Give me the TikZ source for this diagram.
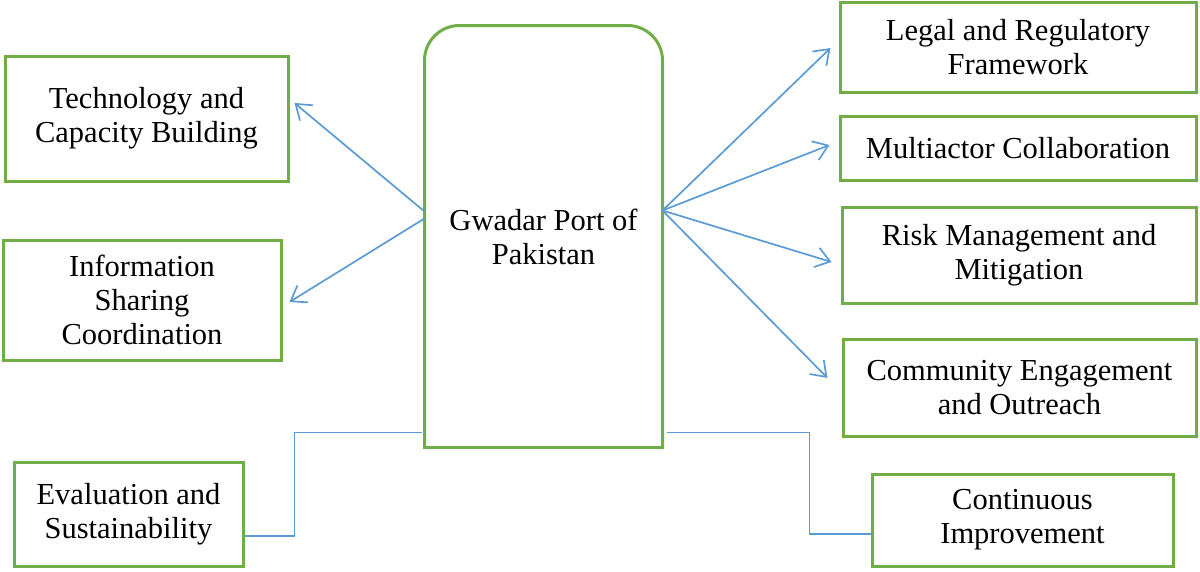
\documentclass[tikz,border=0pt]{standalone}
\usepackage{fontspec}
\setmainfont{Liberation Serif}
\usetikzlibrary{arrows.meta,calc}
\definecolor{boxgreen}{HTML}{70AD47}
\definecolor{lineblue}{HTML}{5B9BD5}
\tikzset{
  box/.style={draw=boxgreen, line width=3pt, align=center, inner sep=0pt,
    font=\fontsize{30.5}{34}\selectfont},
  conn/.style={draw=lineblue, line width=1.7pt},
  arr/.style={conn, -{Straight Barb[length=14pt,width=20pt]}},
}
\begin{document}
\begin{tikzpicture}[x=1pt,y=-1pt]
\useasboundingbox (0,0) rectangle (1200,571);
% side boxes
\node[box, minimum width=283, minimum height=125] (tech) at (146.5,118.5) {Technology and\\Capacity Building};
\node[box, minimum width=278, minimum height=120] (info) at (142,300) {Information\\Sharing\\Coordination};
\node[box, minimum width=229, minimum height=104] (eval) at (128.5,514) {Evaluation and\\Sustainability};
\node[box, minimum width=356, minimum height=90] (legal) at (1018,47) {Legal and Regulatory\\Framework};
\node[box, minimum width=356, minimum height=64] (multi) at (1018,148) {Multiactor Collaboration};
\node[box, minimum width=354, minimum height=96] (risk) at (1019,255) {Risk Management and\\Mitigation};
\node[box, minimum width=353, minimum height=97] (comm) at (1019.5,387.5) {Community Engagement\\and Outreach};
\node[box, minimum width=301, minimum height=92] (cont) at (1022.5,520) {Continuous\\Improvement};
% central box
\node[box, draw=none, minimum width=235, minimum height=419] (gw) at (543.5,236.5) {Gwadar Port of\\Pakistan};
\draw[draw=boxgreen, line width=3pt, rounded corners=35pt] (gw.south west) -- (gw.north west) -- (gw.north east) -- (gw.south east);
\draw[draw=boxgreen, line width=3pt, line cap=rect] (gw.south west) -- (gw.south east);
% arrows
\coordinate (gl1) at ($(gw.north west)+(0,186)$);
\coordinate (gl2) at ($(gw.north west)+(0,193)$);
\coordinate (gr) at ($(gw.north east)+(0,185)$);
\draw[arr] (gl1) -- ([shift={(5,-15.5)}]tech.east);
\draw[arr] (gl2) -- ([shift={(7,2)}]info.east);
\draw[arr] (gr) -- ([shift={(-8,1)}]legal.west);
\draw[arr] (gr) -- ([shift={(-9,-3)}]multi.west);
\draw[arr] (gr) -- ([shift={(-9,7)}]risk.west);
\draw[arr] (gr) -- ([shift={(-14,-9.5)}]comm.west);
% elbow connectors
\coordinate (ge) at ([shift={(-3,-15)}]gw.south west);
\coordinate (gc) at ([shift={(4,-15)}]gw.south east);
\draw[conn] ([shift={(0,22)}]eval.east) -- ++(50,0) |- (ge);
\draw[conn] (gc) -- ++(143,0) |- ([shift={(0,14)}]cont.west);
\end{tikzpicture}
\end{document}
